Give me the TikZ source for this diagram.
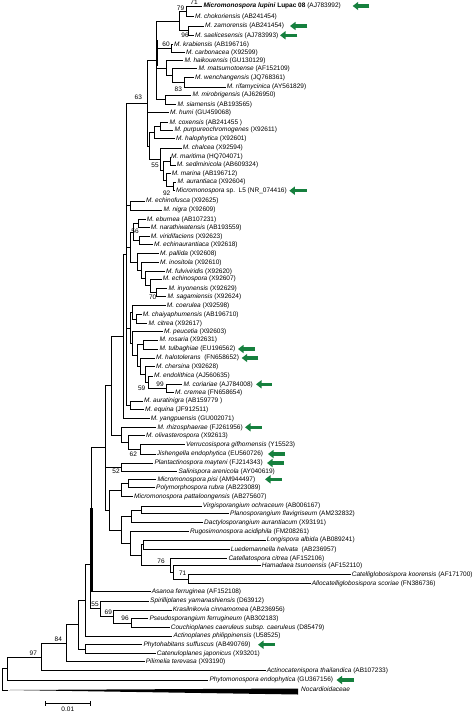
\documentclass[tikz,border=0pt]{standalone}
\usepackage{fontspec}
\setmainfont{Liberation Sans}
\usetikzlibrary{arrows.meta}
\definecolor{arrowgreen}{RGB}{22,128,62}
\newcommand{\lblfont}{\fontsize{6.5}{7}\selectfont}
\newcommand{\kids}[2]{\foreach \c in {#2}{\draw[branch] (#1) |- (\c);}}
\begin{document}
\begin{tikzpicture}[x=1pt,y=-1pt,
  branch/.style={line width=0.6pt},
  leaflab/.style={anchor=west, inner xsep=1pt, inner ysep=0pt, font=\lblfont, text height=4.6pt, text depth=1.2pt},
  boot/.style={font=\lblfont, inner sep=0pt},
  greenarrow/.style={draw=arrowgreen, line width=3.2pt, -{Triangle[length=5.5pt,width=8pt]}},
]
\useasboundingbox (0,0) rectangle (474,712);
% leaves
\node[leaflab] (L1) at (202.3,6) {\textbf{\textit{Micromonospora lupini} Lupac 08} (AJ783992)};
\node[leaflab] (L2) at (194,16.7) {\textit{M. chokoriensis} (AB241454)};
\node[leaflab] (L3) at (204,26) {\textit{M. zamorensis} (AB241454)};
\node[leaflab] (L4) at (194,35.3) {\textit{M. saelicesensis} (AJ783993)};
\node[leaflab] (L5) at (173,44.3) {\textit{M. krabiensis} (AB196716)};
\node[leaflab] (L6) at (185,52.3) {\textit{M. carbonacea} (X92599)};
\node[leaflab] (L7) at (183.3,60.3) {\textit{M. haikouensis} (GU130129)};
\node[leaflab] (L8) at (197.3,68.3) {\textit{M. matsumotoense} (AF152109)};
\node[leaflab] (L9) at (194,77.7) {\textit{M. wenchangensis} (JQ768361)};
\node[leaflab] (L10) at (225.7,87) {\textit{M. rifamycinica} (AY561829)};
\node[leaflab] (L11) at (191.3,95) {\textit{M. mirobrigensis} (AJ626950)};
\node[leaflab] (L12) at (176.3,104.3) {\textit{M. siamensis} (AB193565)};
\node[leaflab] (L13) at (169,112.7) {\textit{M. humi} (GU459068)};
\node[leaflab] (L14) at (168.3,122.3) {\textit{M. coxensis} (AB241455 )};
\node[leaflab] (L15) at (173.3,130) {\textit{M. purpureochromogenes} (X92611)};
\node[leaflab] (L16) at (175,138.7) {\textit{M. halophytica} (X92601)};
\node[leaflab] (L17) at (181.7,148) {\textit{M. chalcea} (X92594)};
\node[leaflab] (L18) at (170,156.7) {\textit{M. maritima} (HQ704071)};
\node[leaflab] (L19) at (175.7,165) {\textit{M. sediminicola} (AB609324)};
\node[leaflab] (L20) at (170.7,173.7) {\textit{M. marina} (AB196712)};
\node[leaflab] (L21) at (176.3,182) {\textit{M. aurantiaca} (X92604)};
\node[leaflab] (L22) at (175,190.7) {\textit{Micromonospora} sp.\ \ L5 (NR\_074416)};
\node[leaflab] (L23) at (145,201) {\textit{M. echinofusca} (X92625)};
\node[leaflab] (L24) at (162.3,210) {\textit{M. nigra} (X92609)};
\node[leaflab] (L25) at (145.7,219.3) {\textit{M. eburnea} (AB107231)};
\node[leaflab] (L26) at (149.7,227.3) {\textit{M. narathiwatensis} (AB193559)};
\node[leaflab] (L27) at (149.7,236.3) {\textit{M. viridifaciens} (X92623)};
\node[leaflab] (L28) at (153,244.3) {\textit{M. echinaurantiaca} (X92618)};
\node[leaflab] (L29) at (159,253.7) {\textit{M. pallida} (X92608)};
\node[leaflab] (L30) at (159,262.7) {\textit{M. inositola} (X92610)};
\node[leaflab] (L31) at (165,271.3) {\textit{M. fulviviridis} (X92620)};
\node[leaflab] (L32) at (161.7,279) {\textit{M. echinospora} (X92607)};
\node[leaflab] (L33) at (167.3,288.3) {\textit{M. inyonensis} (X92629)};
\node[leaflab] (L34) at (166.3,296.3) {\textit{M. sagamiensis} (X92624)};
\node[leaflab] (L35) at (165.7,305.3) {\textit{M. coerulea} (X92598)};
\node[leaflab] (L36) at (141.7,314.7) {\textit{M. chaiyaphumensis} (AB196710)};
\node[leaflab] (L37) at (147.3,323.3) {\textit{M. citrea} (X92617)};
\node[leaflab] (L38) at (163,331.7) {\textit{M. peucetia} (X92603)};
\node[leaflab] (L39) at (158.3,340) {\textit{M. rosaria} (X92631)};
\node[leaflab] (L40) at (158.3,349) {\textit{M. tulbaghiae} (EU196562)};
\node[leaflab] (L41) at (155,358) {\textit{M. halotolerans}\ \ (FN658652)};
\node[leaflab] (L42) at (155,366.7) {\textit{M. chersina} (X92628)};
\node[leaflab] (L43) at (153,376) {\textit{M. endolithica} (AJ560635)};
\node[leaflab] (L44) at (182.3,384.3) {\textit{M. coriariae} (AJ784008)};
\node[leaflab] (L45) at (174,392.7) {\textit{M. cremea} (FN658654)};
\node[leaflab] (L46) at (143,401) {\textit{M. auratinigra} (AB159779 )};
\node[leaflab] (L47) at (144,409.3) {\textit{M. equina} (JF912511)};
\node[leaflab] (L48) at (149.7,418.3) {\textit{M. yangpuensis} (GU002071)};
\node[leaflab] (L49) at (156.3,427.3) {\textit{M. rhizosphaerae} (FJ261956)};
\node[leaflab] (L50) at (145,435.3) {\textit{M. olivasterospora} (X92613)};
\node[leaflab] (L51) at (185,444.7) {\textit{Verrucosispora gifhornensis} (Y15523)};
\node[leaflab] (L52) at (155.7,454) {\textit{Jishengella endophytica} (EU560726)};
\node[leaflab] (L53) at (153.3,463) {\textit{Plantactinospora mayteni} (FJ214343)};
\node[leaflab] (L54) at (177.3,471.3) {\textit{Salinispora arenicola} (AY040619)};
\node[leaflab] (L55) at (156.3,479.3) {\textit{Micromonospora pisi} (AM944497)};
\node[leaflab] (L56) at (155,487.7) {\textit{Polymorphospora rubra} (AB223089)};
\node[leaflab] (L57) at (133,496.3) {\textit{Micromonospora pattaloongensis} (AB275607)};
\node[leaflab] (L58) at (201.7,506) {\textit{Virgisporangium ochraceum} (AB006167)};
\node[leaflab] (L59) at (229,513.7) {\textit{Planosporangium flavigriseum} (AM232832)};
\node[leaflab] (L60) at (203,522.7) {\textit{Dactylosporangium aurantiacum} (X93191)};
\node[leaflab] (L61) at (189,531.7) {\textit{Rugosimonospora acidiphila} (FM208261)};
\node[leaflab] (L62) at (265.7,540) {\textit{Longispora albida} (AB089241)};
\node[leaflab] (L63) at (229.7,549.3) {\textit{Luedemannella helvata}\ \ (AB236957)};
\node[leaflab] (L64) at (227.3,558.3) {\textit{Catellatospora citrea} (AF152106)};
\node[leaflab] (L65) at (260.7,565.7) {\textit{Hamadaea tsunoensis} (AF152110)};
\node[leaflab] (L66) at (350.7,574.3) {\textit{Catelliglobosispora koorensis} (AF171700)};
\node[leaflab] (L67) at (310.7,583.3) {\textit{Allocatelliglobosispora scoriae} (FN386736)};
\node[leaflab] (L68) at (150.7,591.6) {\textit{Asanoa ferruginea} (AF152108)};
\node[leaflab] (L69) at (149,601) {\textit{Spirilliplanes yamanashiensis} (D63912)};
\node[leaflab] (L70) at (171.7,609.8) {\textit{Krasilnikovia cinnamomea} (AB236956)};
\node[leaflab] (L71) at (148.3,618.3) {\textit{Pseudosporangium ferrugineum} (AB302183)};
\node[leaflab] (L72) at (169.7,627.3) {\textit{Couchioplanes caeruleus subsp. caeruleus} (D85479)};
\node[leaflab] (L73) at (172.3,636) {\textit{Actinoplanes philippinensis} (U58525)};
\node[leaflab] (L74) at (142.3,644.7) {\textit{Phytohabitans suffuscus} (AB490769)};
\node[leaflab] (L75) at (155.7,653.3) {\textit{Catenuloplanes japonicus} (X93201)};
\node[leaflab] (L76) at (144.7,661.7) {\textit{Pilimelia terevasa} (X93190)};
\node[leaflab] (L77) at (265.7,670.7) {\textit{Actinocatenispora thailandica} (AB107233)};
\node[leaflab] (L78) at (208.3,680) {\textit{Phytomonospora endophytica} (GU367156)};
\node[leaflab] (L79) at (300,690) {\textit{Nocardioidaceae}};
% internal nodes
\coordinate (nA) at (186.7,11.35);
\coordinate (nC) at (188.3,30.65);
\coordinate (nB) at (179.3,21);
\coordinate (nE) at (171,48.3);
\coordinate (nF) at (184.3,82.35);
\coordinate (nG) at (172.5,75.3);
\coordinate (nH) at (166,67.8);
\coordinate (nI) at (165,99.65);
\coordinate (nD) at (156.7,60.33);
\coordinate (nK) at (160,126.15);
\coordinate (nL) at (154,132.43);
\coordinate (nM) at (170,160.85);
\coordinate (nN) at (173.3,186.35);
\coordinate (nO) at (166,180.03);
\coordinate (nP) at (163.3,170.44);
\coordinate (nQ) at (160,159.22);
\coordinate (nR) at (149.3,145.83);
\coordinate (nJ) at (147.3,103.08);
\coordinate (nRb) at (130,205.5);
\coordinate (nS) at (138.3,223.3);
\coordinate (nT) at (139,240.3);
\coordinate (nU) at (133.3,231.8);
\coordinate (nV) at (156.7,292.3);
\coordinate (nW) at (150,285.65);
\coordinate (nX) at (145,278.48);
\coordinate (nY) at (141.7,270.59);
\coordinate (nZ) at (137.3,262.15);
\coordinate (nUZ) at (130.7,246.98);
\coordinate (nAB) at (136,319);
\coordinate (nAA) at (132.7,312.15);
\coordinate (nAC) at (143.3,344.5);
\coordinate (nAD) at (166,388.5);
\coordinate (nAE) at (148.3,382.25);
\coordinate (nAF) at (145,374.48);
\coordinate (nAG) at (140,366.24);
\coordinate (nAH) at (137.3,355.37);
\coordinate (nAI) at (132.7,343.54);
\coordinate (nAJ) at (130,327.85);
\coordinate (nAK) at (130,405.15);
\coordinate (nMM) at (126.7,254.12);
\coordinate (nBB) at (123.3,336.21);
\coordinate (nAL) at (140,449.35);
\coordinate (nAM) at (128.3,442.33);
\coordinate (nAN) at (121.7,434.81);
\coordinate (nMG) at (111.7,385.51);
\coordinate (nAO) at (121.7,467.15);
\coordinate (nAP) at (128.3,483.5);
\coordinate (nAQ) at (121.7,489.9);
\coordinate (nAS) at (141.7,509.85);
\coordinate (nAT) at (131.7,516.28);
\coordinate (nAU) at (143.3,544.65);
\coordinate (nAV) at (188.3,578.8);
\coordinate (nAW) at (173.3,572.25);
\coordinate (nAX) at (170,565.28);
\coordinate (nAY) at (141.7,554.96);
\coordinate (nAZ) at (130,543.33);
\coordinate (nBA) at (121.7,529.8);
\coordinate (nBP) at (109.3,509.85);
\coordinate (nBC) at (105,447.68);
\coordinate (nBD) at (131.7,622.8);
\coordinate (nBE) at (113.3,616.3);
\coordinate (nBF) at (100,608.65);
\coordinate (nBG) at (91.7,519.64);
\coordinate (nBGa) at (90.7,564.15);
\coordinate (nBH) at (85,600.07);
\coordinate (nBI) at (85,649);
\coordinate (nBJ) at (78.3,624.54);
\coordinate (nBK) at (66.7,643.12);
\coordinate (nBL) at (41.7,656.91);
\coordinate (nBM) at (7.3,668.46);
\coordinate (nRoot) at (2.7,679.23);
\coordinate (noctip) at (8.3,690);
% branches
\kids{nA}{L1.west,L2.west}
\kids{nC}{L3.west,L4.west}
\kids{nB}{nA,nC}
\kids{nE}{L5.west,L6.west}
\kids{nF}{L9.west,L10.west}
\kids{nG}{L8.west,nF}
\kids{nH}{L7.west,nG}
\kids{nI}{L11.west,L12.west}
\kids{nD}{nB,nE,nH,nI}
\kids{nK}{L14.west,L15.west}
\kids{nL}{nK,L16.west}
\kids{nM}{L18.west,L19.west}
\kids{nN}{L21.west,L22.west}
\kids{nO}{L20.west,nN}
\kids{nP}{nM,nO}
\kids{nQ}{L17.west,nP}
\kids{nR}{nL,nQ}
\kids{nJ}{nD,L13.west,nR}
\kids{nRb}{L23.west,L24.west}
\kids{nS}{L25.west,L26.west}
\kids{nT}{L27.west,L28.west}
\kids{nU}{nS,nT}
\kids{nV}{L33.west,L34.west}
\kids{nW}{L32.west,nV}
\kids{nX}{L31.west,nW}
\kids{nY}{L30.west,nX}
\kids{nZ}{L29.west,nY}
\kids{nUZ}{nU,nZ}
\kids{nAB}{L36.west,L37.west}
\kids{nAA}{L35.west,nAB}
\kids{nAC}{L39.west,L40.west}
\kids{nAD}{L44.west,L45.west}
\kids{nAE}{L43.west,nAD}
\kids{nAF}{L42.west,nAE}
\kids{nAG}{L41.west,nAF}
\kids{nAH}{nAC,nAG}
\kids{nAI}{L38.west,nAH}
\kids{nAJ}{nAA,nAI}
\kids{nAK}{L46.west,L47.west}
\kids{nMM}{nJ,nRb,nUZ,nAJ,nAK}
\kids{nBB}{nMM,L48.west}
\kids{nAL}{L51.west,L52.west}
\kids{nAM}{L50.west,nAL}
\kids{nAN}{L49.west,nAM}
\kids{nMG}{nBB,nAN}
\kids{nAO}{L53.west,L54.west}
\kids{nAP}{L55.west,L56.west}
\kids{nAQ}{nAP,L57.west}
\kids{nAS}{L58.west,L59.west}
\kids{nAT}{nAS,L60.west}
\kids{nAU}{L62.west,L63.west}
\kids{nAV}{L66.west,L67.west}
\kids{nAW}{L65.west,nAV}
\kids{nAX}{L64.west,nAW}
\kids{nAY}{nAU,nAX}
\kids{nAZ}{L61.west,nAY}
\kids{nBA}{nAT,nAZ}
\kids{nBP}{nAQ,nBA}
\kids{nBC}{nMG,nAO,nBP}
\kids{nBD}{L71.west,L72.west}
\kids{nBE}{L70.west,nBD}
\kids{nBF}{L69.west,nBE}
\kids{nBG}{nBC,L68.west}
\kids{nBGa}{nBG,nBF}
\kids{nBH}{nBGa,L73.west}
\kids{nBI}{L74.west,L75.west}
\kids{nBJ}{nBH,nBI}
\kids{nBK}{nBJ,L76.west}
\kids{nBL}{nBK,L77.west}
\kids{nBM}{nBL,L78.west}
\kids{nRoot}{nBM,noctip}
\draw[line width=2.6pt] (91.7,508) -- (91.7,592);
\draw[line width=1.6pt] (156.7,40) -- (156.7,66);
\fill (noctip) -- (298,688.5) -- (298,694.5) -- cycle;
% bootstrap values
\node[boot] (b1) at (194,2.5) {71};
\node[boot] (b2) at (180.5,8.5) {79};
\node[boot] (b3) at (185,35.3) {96};
\node[boot] (b4) at (166,44.3) {60};
\node[boot] (b5) at (178.3,89.3) {83};
\node[boot] (b6) at (138.3,97.5) {63};
\node[boot] (b7) at (155,165.7) {55};
\node[boot] (b8) at (166.7,193.3) {92};
\node[boot] (b9) at (135,231.7) {56};
\node[boot] (b10) at (152.7,297.3) {70};
\node[boot] (b11) at (160,384.3) {99};
\node[boot] (b12) at (141.7,388) {59};
\node[boot] (b13) at (133.3,454.7) {62};
\node[boot] (b14) at (116,471.3) {52};
\node[boot] (b15) at (161,561) {76};
\node[boot] (b16) at (182.7,573.7) {71};
\node[boot] (b17) at (95,604.7) {55};
\node[boot] (b18) at (108.3,612.3) {69};
\node[boot] (b19) at (125,618.5) {96};
\node[boot] (b20) at (58.3,639.5) {84};
\node[boot] (b21) at (33.3,653.3) {97};
% green arrows
\draw[greenarrow] (369.3,6) -- (352.7,6);
\draw[greenarrow] (307.3,26) -- (290,26);
\draw[greenarrow] (297.3,35.3) -- (280,35.3);
\draw[greenarrow] (306.7,190.7) -- (289.3,190.7);
\draw[greenarrow] (255,349) -- (238,349);
\draw[greenarrow] (258.3,358) -- (241.7,358);
\draw[greenarrow] (271.7,384.3) -- (256,384.3);
\draw[greenarrow] (261.7,427.3) -- (245,427.3);
\draw[greenarrow] (285,454) -- (268,454);
\draw[greenarrow] (284,463) -- (267,463);
\draw[greenarrow] (281.7,479.3) -- (265,479.3);
\draw[greenarrow] (275,644.7) -- (258,644.7);
\draw[greenarrow] (354,680) -- (336.5,680);
% scale bar
\coordinate (sb1) at (45.7,703);
\coordinate (sb2) at (90,703);
\draw[branch] (sb1) -- (sb2);
\draw[branch] ([yshift=-2.5pt]sb1) -- ([yshift=2.5pt]sb1);
\draw[branch] ([yshift=-2.5pt]sb2) -- ([yshift=2.5pt]sb2);
\node[boot, anchor=north] (sbl) at (67.8,707) {0.01};
\end{tikzpicture}
\end{document}
